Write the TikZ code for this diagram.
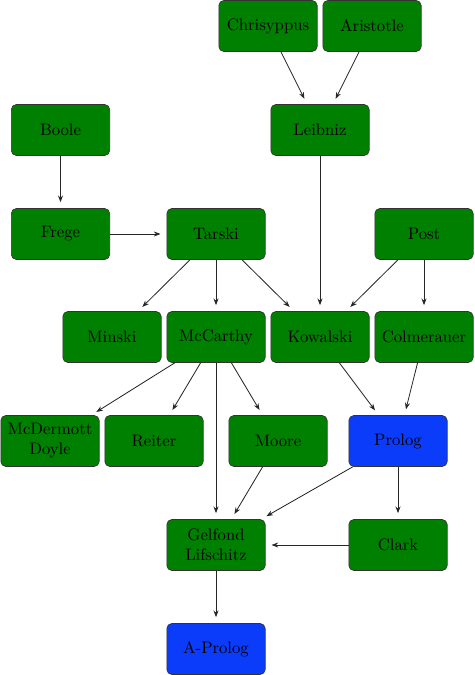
\documentclass[tikz,border=0pt]{standalone}
\usetikzlibrary{arrows.meta}
\definecolor{boxgreen}{RGB}{0,128,0}
\definecolor{boxblue}{RGB}{10,60,250}
\begin{document}
\begin{tikzpicture}[x=0.6pt,y=-0.6pt,
  person/.style={draw=black!80, fill=boxgreen, rounded corners=3pt,
    minimum width=59pt, minimum height=30.6pt, inner sep=1pt, align=center, text=black},
  lang/.style={person, fill=boxblue},
  arr/.style={-{Stealth[length=4pt,width=3pt]}, draw=black!85, shorten >=3.6pt, line width=0.5pt}]
\useasboundingbox (0,0) rectangle (474,675);
\node[person] (chr) at (268,26) {Chrisyppus};
\node[person] (ari) at (372,26) {Aristotle};
\node[person] (boo) at (60.5,130) {Boole};
\node[person] (lei) at (320,130) {Leibniz};
\node[person] (fre) at (60.5,234) {Frege};
\node[person] (tar) at (216,234) {Tarski};
\node[person] (pos) at (424,234) {Post};
\node[person] (min) at (112,337) {Minski};
\node[person] (mcc) at (216,337) {McCarthy};
\node[person] (kow) at (320,337) {Kowalski};
\node[person] (col) at (424,337) {Colmerauer};
\node[person] (mcd) at (50,441) {McDermott\\Doyle};
\node[person] (rei) at (154,441) {Reiter};
\node[person] (moo) at (278,441) {Moore};
\node[lang] (pro) at (398,441) {Prolog};
\node[person] (gel) at (216,545) {Gelfond\\Lifschitz};
\node[person] (cla) at (398,545) {Clark};
\node[lang] (apr) at (216,649) {A-Prolog};
\draw[arr] (chr) -- (lei);
\draw[arr] (ari) -- (lei);
\draw[arr] (boo) -- (fre);
\draw[arr] (fre) -- (tar);
\draw[arr] (tar) -- (min);
\draw[arr] (tar) -- (mcc);
\draw[arr] (tar) -- (kow);
\draw[arr] (lei) -- (kow);
\draw[arr] (pos) -- (kow);
\draw[arr] (pos) -- (col);
\draw[arr] (mcc) -- (mcd);
\draw[arr] (mcc) -- (rei);
\draw[arr] (mcc) -- (moo);
\draw[arr] (mcc) -- (gel);
\draw[arr] (kow) -- (pro);
\draw[arr] (col) -- (pro);
\draw[arr] (moo) -- (gel);
\draw[arr] (pro) -- (gel);
\draw[arr] (pro) -- (cla);
\draw[arr] (cla) -- (gel);
\draw[arr] (gel) -- (apr);
\end{tikzpicture}
\end{document}
